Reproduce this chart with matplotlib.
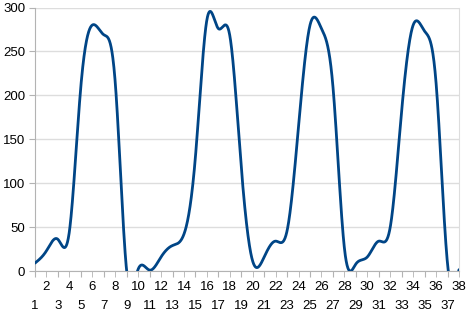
import numpy as np
import matplotlib
matplotlib.use("Agg")
import matplotlib.pyplot as plt

categories = list(range(1, 39))
values = [9, 23, 36, 45, 210, 280, 269, 215, 0, 2, 1, 16, 29, 42, 130, 286, 276, 268, 118, 11,
          16, 34, 46, 165, 280, 276, 210, 26, 8, 16, 34, 50, 183, 280, 273, 214, 8, 1.5]
y_ticks = [0, 50, 100, 150, 200, 250, 300]


def natural_cubic_spline(x, y, xs):
    x = np.asarray(x, float)
    y = np.asarray(y, float)
    n = len(x)
    h = np.diff(x)
    A = np.zeros((n, n))
    b = np.zeros(n)
    A[0, 0] = 1
    A[-1, -1] = 1
    for i in range(1, n - 1):
        A[i, i - 1] = h[i - 1]
        A[i, i] = 2 * (h[i - 1] + h[i])
        A[i, i + 1] = h[i]
        b[i] = 3 * ((y[i + 1] - y[i]) / h[i] - (y[i] - y[i - 1]) / h[i - 1])
    c = np.linalg.solve(A, b)
    out = np.empty_like(xs)
    idx = np.clip(np.searchsorted(x, xs) - 1, 0, n - 2)
    for k, (xi, i) in enumerate(zip(xs, idx)):
        bi = (y[i + 1] - y[i]) / h[i] - h[i] * (2 * c[i] + c[i + 1]) / 3
        di = (c[i + 1] - c[i]) / (3 * h[i])
        dx = xi - x[i]
        out[k] = y[i] + bi * dx + c[i] * dx ** 2 + di * dx ** 3
    return out


plt.rcParams['font.family'] = ['Liberation Sans', 'DejaVu Sans']
fig = plt.figure(figsize=(4.74, 3.2), dpi=100)
ax = fig.add_axes([35 / 474, 1 - 271 / 320, (459 - 35) / 474, (271 - 7.5) / 320])

xs = np.linspace(categories[0], categories[-1], 2000)
ys = natural_cubic_spline(categories, values, xs)
ax.plot(xs, ys, color='#004586', lw=2.0, solid_capstyle='round', zorder=3)

ax.set_xlim(1, 38)
ax.set_ylim(0, 300)
ax.set_yticks(y_ticks)
ax.set_yticklabels([str(v) for v in y_ticks])
ax.yaxis.grid(True, color='#dddddd', lw=1)
ax.set_axisbelow(True)

odd = [c for c in categories if c % 2 == 1]
even = [c for c in categories if c % 2 == 0]
ax.set_xticks(odd)
ax.set_xticklabels([str(c) for c in odd])
ax.set_xticks(even, minor=True)
ax.set_xticklabels([str(c) for c in even], minor=True)

ax.tick_params(axis='x', which='major', length=4, color='#b3b3b3', pad=17, labelsize=9.5, labelcolor='#000000')
ax.tick_params(axis='x', which='minor', length=4, color='#b3b3b3', pad=3, labelsize=9.5, labelcolor='#000000')
ax.tick_params(axis='y', length=4, color='#b3b3b3', pad=3, labelsize=9.5, labelcolor='#000000')

for s in ['left', 'bottom']:
    ax.spines[s].set_color('#b3b3b3')
ax.spines['right'].set_color('#dddddd')
ax.spines['top'].set_visible(False)

fig.savefig('out.png', dpi=100)
